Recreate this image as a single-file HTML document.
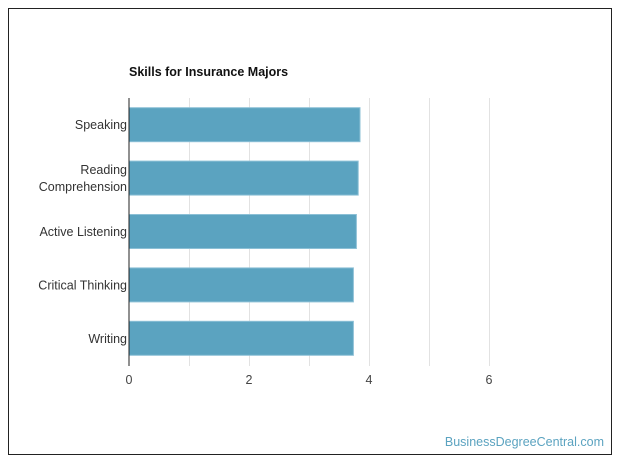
<!DOCTYPE html>
<html><head><meta charset="utf-8"><style>
body{margin:0;background:#fff;font-family:"Liberation Sans",sans-serif;}
svg{display:block}
</style></head><body>
<svg width="620" height="465">
<rect x="8.5" y="8.5" width="603" height="446" fill="#fff" stroke="#222" stroke-width="1"/>
<text x="129" y="76" font-size="12.5" font-weight="bold" fill="#111">Skills for Insurance Majors</text>
<g id="grid"></g><g id="bars"></g><g id="labels"></g><g id="ticks"></g>
<line x1="129" y1="98" x2="129" y2="366" stroke="#222" stroke-width="1"/>
<text x="604" y="446" font-size="12.5" text-anchor="end" fill="#5ba3c0">BusinessDegreeCentral.com</text>
</svg>
<script>
const categories=[["Speaking"],["Reading","Comprehension"],["Active Listening"],["Critical Thinking"],["Writing"]];
const values=[3.85,3.82,3.79,3.74,3.74];
const tickValues=[0,2,4,6];
const gridValues=[1,2,3,4,5,6];
const NS="http://www.w3.org/2000/svg";
const x0=129,ppu=60,plotTop=98,band=53.4,barH=34;
const xs=v=>x0+v*ppu;
function mk(t,a,p){const e=document.createElementNS(NS,t);for(const k in a)e.setAttribute(k,a[k]);document.getElementById(p).appendChild(e);return e;}
gridValues.forEach(g=>{
 const e=mk('line',{x1:xs(g)+.5,x2:xs(g)+.5,y1:plotTop,y2:366,stroke:'#e2e2e2','stroke-width':1},'grid');
 
 
});
tickValues.forEach(t=>{
 const e=mk('text',{x:xs(t),y:384,'font-size':12.5,'text-anchor':'middle',fill:'#444'},'ticks');
 e.textContent=t;
 
 
});
values.forEach((v,i)=>{
 const cy=plotTop+band*(i+0.5);
 const r=mk('rect',{x:x0,y:cy-barH/2,width:xs(v)-x0,height:barH,fill:'#5ba3c0',stroke:'#8cc0d6','stroke-width':1},'bars');
 
 
 const lines=categories[i];
 lines.forEach((l,j)=>{
  const t=mk('text',{x:127,y:cy+4.5+(j-(lines.length-1)/2)*17,'font-size':12.5,'text-anchor':'end',fill:'#333'},'labels');
  t.textContent=l;
  
  
 });
});
</script>
</body></html>
